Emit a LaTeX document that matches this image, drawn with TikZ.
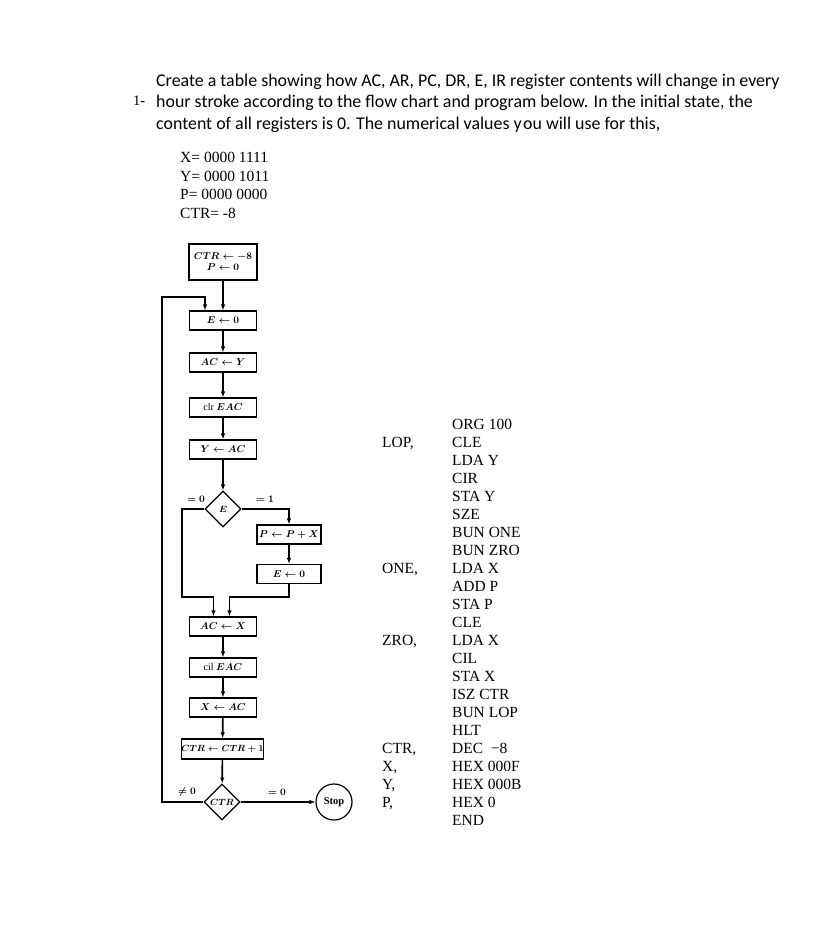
\documentclass[tikz,border=0pt]{standalone}
\usepackage{fontspec}
\setmainfont{Liberation Serif}
\newfontfamily\calfont{Carlito}
\usetikzlibrary{shapes.geometric,arrows.meta}
\begin{document}
\begin{tikzpicture}[x=1pt,y=-1pt,
  box/.style={draw, line width=1.2pt, minimum width=67pt, minimum height=19pt, inner sep=0pt, font=\fontsize{10}{11}\selectfont\boldmath},
  dia/.style={draw, diamond, line width=1.2pt, minimum width=36pt, minimum height=36pt, inner sep=0pt, font=\fontsize{9.5}{10}\selectfont\boldmath},
  flow/.style={line width=1.7pt},
  arr/.style={flow, -{Latex[length=6pt,width=4.5pt]}},
  lbl/.style={font=\fontsize{10}{11}\selectfont\boldmath, inner sep=0pt},
  para/.style={anchor=base west, inner sep=0pt, font=\calfont\fontsize{17.9}{20}\selectfont},
  val/.style={anchor=base west, inner sep=0pt, font=\fontsize{15.5}{17}\selectfont},
  code/.style={anchor=base west, inner sep=0pt, font=\fontsize{15.5}{17}\selectfont},
]
\useasboundingbox (0,0) rectangle (820,938);
\fill[white] (0,0) rectangle (820,938);

% ---- question text ----
\node[para] (t1) at (156,86) {Create a table showing how AC, AR, PC, DR, E, IR register contents will change in every};
\node[para] (t2) at (156,107.5) {hour stroke according to the flow chart and program below. In the initial state, the};
\node[para] (t3) at (156,129) {content of all registers is 0. The numerical values y\kern1.5pt ou will use for this,};
\node[anchor=base west, inner sep=0pt, font=\fontsize{14.5}{16}\selectfont] (num) at (133,105) {1-};

\node[val] (vx) at (180,162) {X= 0000 1111};
\node[val] (vy) at (180,181) {Y= 0000 1011};
\node[val] (vp) at (180,199.5) {P= 0000 0000};
\node[val] (vc) at (180,218) {CTR= -8};

% ---- flow chart ----
\node[box, minimum height=36pt, minimum width=68pt, align=center] (ctr) at (223,262) {$CTR \leftarrow -8$\\[0pt]$P \leftarrow 0$};
\node[box] (e0)  at (223,320.5) {$E \leftarrow 0$};
\node[box] (acy) at (223,362.5) {$AC \leftarrow Y$};
\node[box] (clr) at (223,407.5) {clr $EAC$};
\node[box] (yac) at (223,449.5) {$Y \leftarrow AC$};
\node[dia] (dE)  at (223,509) {$E$};
\node[box, minimum width=64pt] (ppx) at (289,534.5) {$P \leftarrow P + X$};
\node[box, minimum width=64pt] (e0b) at (289,574) {$E \leftarrow 0$};
\node[box] (acx) at (223,626.5) {$AC \leftarrow X$};
\node[box] (cil) at (223,667.5) {cil $EAC$};
\node[box] (xac) at (223,707.5) {$X \leftarrow AC$};
\node[box, minimum width=81pt, minimum height=20pt, font=\fontsize{9.5}{11}\selectfont\boldmath] (ctr1) at (222.5,749) {$CTR \leftarrow CTR + 1$};
\node[dia] (dC)  at (222,802) {$CTR$};
\node[draw, circle, line width=1.2pt, minimum size=36pt, inner sep=0pt, font=\bfseries\fontsize{10.5}{11}\selectfont] (stop) at (334,802) {Stop};

\coordinate (mL) at (182,597);
\coordinate (mR) at (289,597);
\coordinate (lpB) at (162,802);
\coordinate (lpT) at (162,297);

\draw[arr] (ctr) -- (e0);
\draw[arr] (e0) -- (acy);
\draw[arr] (acy) -- (clr);
\draw[arr] (clr) -- (yac);
\draw[arr] (yac) -- (dE);
\draw[arr] (dE.east) -| (ppx.north);
\draw[arr] (ppx) -- (e0b);
\draw[arr] (dE.west) -| (mL) -| ([xshift=-9.5pt]acx.north);
\draw[arr] (e0b.south) -- (mR) -| ([xshift=6.5pt]acx.north);
\draw[arr] (acx) -- (cil);
\draw[arr] (cil) -- (xac);
\draw[arr] (xac) -- (ctr1);
\draw[arr] (ctr1) -- (dC);
\draw[arr] (dC) -- (stop);
\draw[arr] (dC.west) -- (lpB) -- (lpT) -| ([xshift=-18pt]e0.north);

\node[lbl] (l0) at (196,499) {$=0$};
\node[lbl] (l1) at (265,499) {$=1$};
\node[lbl] (l2) at (187,792) {$\neq 0$};
\node[lbl] (l3) at (277,792) {$=0$};

% ---- program listing ----
\foreach \t [count=\i from 0] in {ORG 100, CLE, LDA Y, CIR, STA Y, SZE, BUN ONE, BUN ZRO, LDA X, ADD P, STA P, CLE, LDA X, CIL, STA X, ISZ CTR, BUN LOP, HLT, DEC\ \ \textminus8, HEX 000F, HEX 000B, HEX 0, END}
  \node[code] (c\i) at (452,{429+18*\i}) {\t};
\foreach \t/\i in {LOP/1, ONE/8, ZRO/12, CTR/18, X/19, Y/20, P/21}
  \node[code] (lab\i) at (382,{429+18*\i}) {\t,};
\end{tikzpicture}
\end{document}
